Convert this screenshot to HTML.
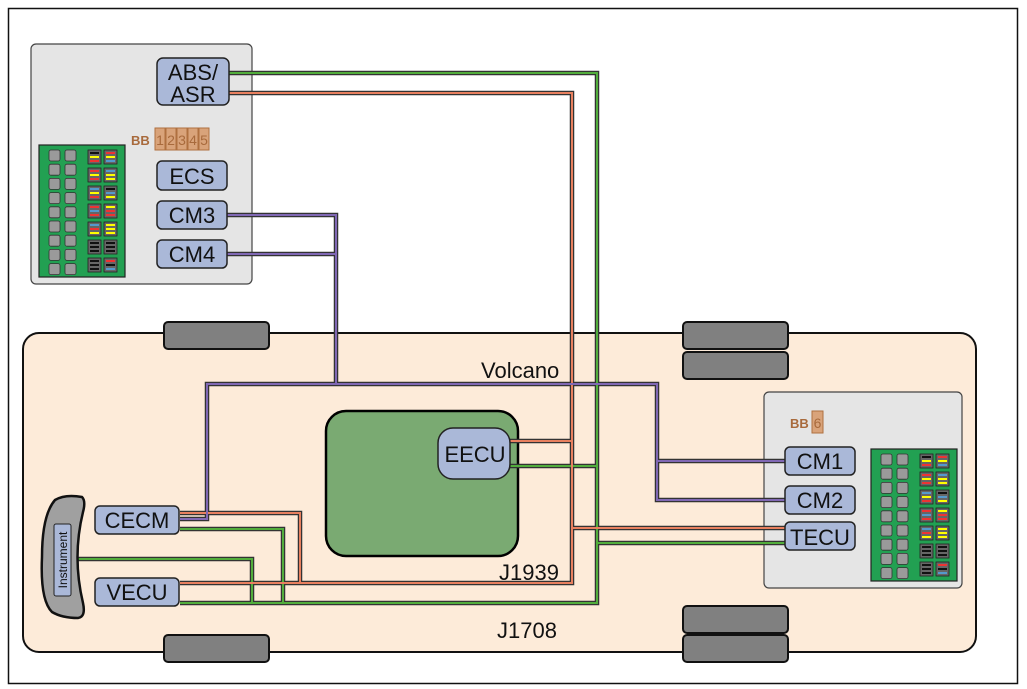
<!DOCTYPE html>
<html><head><meta charset="utf-8"><style>
html,body{margin:0;padding:0;background:#fff}
svg{display:block}
text{font-family:"Liberation Sans",Arial,sans-serif}
</style></head><body>
<svg width="1027" height="689" viewBox="0 0 1027 689" xmlns="http://www.w3.org/2000/svg">
<defs>
<g id="panel">
<rect x="0" y="0" width="86" height="132" fill="#22a052" stroke="#222" stroke-width="1.2"/>
<g fill="#9a9a9a" stroke="#333" stroke-width="0.8">
<rect x="10" y="5" width="11" height="11" rx="2"/><rect x="26" y="5" width="11" height="11" rx="2"/>
<rect x="10" y="19.2" width="11" height="11" rx="2"/><rect x="26" y="19.2" width="11" height="11" rx="2"/>
<rect x="10" y="33.4" width="11" height="11" rx="2"/><rect x="26" y="33.4" width="11" height="11" rx="2"/>
<rect x="10" y="47.6" width="11" height="11" rx="2"/><rect x="26" y="47.6" width="11" height="11" rx="2"/>
<rect x="10" y="61.8" width="11" height="11" rx="2"/><rect x="26" y="61.8" width="11" height="11" rx="2"/>
<rect x="10" y="76" width="11" height="11" rx="2"/><rect x="26" y="76" width="11" height="11" rx="2"/>
<rect x="10" y="90.2" width="11" height="11" rx="2"/><rect x="26" y="90.2" width="11" height="11" rx="2"/>
<rect x="10" y="104.4" width="11" height="11" rx="2"/><rect x="26" y="104.4" width="11" height="11" rx="2"/>
<rect x="10" y="118.6" width="11" height="11" rx="2"/><rect x="26" y="118.6" width="11" height="11" rx="2"/>
</g>
<g stroke="#222" stroke-width="0.8" fill="#666">
<rect x="49" y="5" width="13" height="14"/><rect x="65" y="5" width="13" height="14"/>
<rect x="49" y="23" width="13" height="14"/><rect x="65" y="23" width="13" height="14"/>
<rect x="49" y="41" width="13" height="14"/><rect x="65" y="41" width="13" height="14"/>
<rect x="49" y="59" width="13" height="14"/><rect x="65" y="59" width="13" height="14"/>
<rect x="49" y="77" width="13" height="14"/><rect x="65" y="77" width="13" height="14"/>
<rect x="49" y="95" width="13" height="14"/><rect x="65" y="95" width="13" height="14"/>
<rect x="49" y="113" width="13" height="14"/><rect x="65" y="113" width="13" height="14"/>
</g>
<g stroke="none">
<rect x="51" y="7" width="9" height="2" fill="#111"/><rect x="51" y="11" width="9" height="2" fill="#ff0"/><rect x="51" y="15" width="9" height="2" fill="#e33"/>
<rect x="67" y="7" width="9" height="2" fill="#e33"/><rect x="67" y="11" width="9" height="2" fill="#ff0"/><rect x="67" y="15" width="9" height="2" fill="#59c"/>
<rect x="51" y="25" width="9" height="2" fill="#e33"/><rect x="51" y="29" width="9" height="2" fill="#ff0"/><rect x="51" y="33" width="9" height="2" fill="#e33"/>
<rect x="67" y="25" width="9" height="2" fill="#59c"/><rect x="67" y="29" width="9" height="2" fill="#ff0"/><rect x="67" y="33" width="9" height="2" fill="#ff0"/>
<rect x="51" y="43" width="9" height="2" fill="#59c"/><rect x="51" y="47" width="9" height="2" fill="#ff0"/><rect x="51" y="51" width="9" height="2" fill="#e33"/>
<rect x="67" y="43" width="9" height="2" fill="#111"/><rect x="67" y="47" width="9" height="2" fill="#59c"/><rect x="67" y="51" width="9" height="2" fill="#ff0"/>
<rect x="51" y="61" width="9" height="2" fill="#e33"/><rect x="51" y="65" width="9" height="2" fill="#59c"/><rect x="51" y="69" width="9" height="2" fill="#e33"/>
<rect x="67" y="61" width="9" height="2" fill="#ff0"/><rect x="67" y="65" width="9" height="2" fill="#e33"/><rect x="67" y="69" width="9" height="2" fill="#e33"/>
<rect x="51" y="79" width="9" height="2" fill="#59c"/><rect x="51" y="83" width="9" height="2" fill="#e33"/><rect x="51" y="87" width="9" height="2" fill="#ff0"/>
<rect x="67" y="79" width="9" height="2" fill="#ff0"/><rect x="67" y="83" width="9" height="2" fill="#ff0"/><rect x="67" y="87" width="9" height="2" fill="#ff0"/>
<rect x="51" y="97" width="9" height="2" fill="#111"/><rect x="51" y="101" width="9" height="2" fill="#111"/><rect x="51" y="105" width="9" height="2" fill="#111"/>
<rect x="67" y="97" width="9" height="2" fill="#111"/><rect x="67" y="101" width="9" height="2" fill="#111"/><rect x="67" y="105" width="9" height="2" fill="#111"/>
<rect x="51" y="115" width="9" height="2" fill="#111"/><rect x="51" y="119" width="9" height="2" fill="#111"/><rect x="51" y="123" width="9" height="2" fill="#111"/>
<rect x="67" y="115" width="9" height="2" fill="#e33"/><rect x="67" y="119" width="9" height="2" fill="#111"/><rect x="67" y="123" width="9" height="2" fill="#59c"/>
</g>
</g>
</defs>

<rect x="8.5" y="8.5" width="1009" height="675" fill="#fff" stroke="#111" stroke-width="1.5"/>

<rect x="31" y="44" width="221" height="240" rx="5" fill="#e5e5e5" stroke="#444" stroke-width="1.2"/>

<rect x="23" y="333" width="953" height="319" rx="16" fill="#fdebd9" stroke="#111" stroke-width="2"/>
<g fill="#808080" stroke="#111" stroke-width="2">
<rect x="164" y="322" width="105" height="27" rx="4"/>
<rect x="683" y="322" width="105" height="27" rx="4"/>
<rect x="683" y="352" width="105" height="27" rx="4"/>
<rect x="164" y="635" width="105" height="27" rx="4"/>
<rect x="683" y="606" width="105" height="27" rx="4"/>
<rect x="683" y="635" width="105" height="27" rx="4"/>
</g>

<rect x="764" y="392" width="198" height="196" rx="5" fill="#e5e5e5" stroke="#444" stroke-width="1.2"/>

<rect x="326" y="411" width="192" height="145" rx="20" fill="#7aaa72" stroke="#000" stroke-width="2.5"/>

<g fill="none" stroke="#333" stroke-width="4.5" stroke-linejoin="miter">
<polyline points="229,73 597,73 597,603 180,603"/>
<polyline points="229,93 572,93 572,583 180,583"/>
<polyline points="510,441 572,441"/>
<polyline points="510,466 597,466"/>
<polyline points="572,528 785,528"/>
<polyline points="597,543 785,543"/>
<polyline points="180,513 300,513 300,583"/>
<polyline points="180,529 283,529 283,603"/>
<polyline points="78,559 252,559 252,603"/>
<polyline points="227,215 336,215 336,384"/>
<polyline points="227,254 336,254"/>
<polyline points="180,519 207,519 207,384 657,384 657,500 785,500"/>
<polyline points="657,461 785,461"/>
</g>
<g fill="none" stroke-width="2" stroke-linejoin="miter">
<g stroke="#52ad3c">
<polyline points="229,73 597,73 597,603 180,603"/>
<polyline points="510,466 597,466"/>
<polyline points="597,543 785,543"/>
<polyline points="180,529 283,529 283,603"/>
<polyline points="78,559 252,559 252,603"/>
</g>
<g stroke="#e8805f">
<polyline points="229,93 572,93 572,583 180,583"/>
<polyline points="510,441 572,441"/>
<polyline points="572,528 785,528"/>
<polyline points="180,513 300,513 300,583"/>
</g>
<g stroke="#8068b4">
<polyline points="227,215 336,215 336,384"/>
<polyline points="227,254 336,254"/>
<polyline points="180,519 207,519 207,384 657,384 657,500 785,500"/>
<polyline points="657,461 785,461"/>
</g>
</g>

<g fill="#aab8d8" stroke="#222" stroke-width="1.5">
<rect x="157" y="58" width="72" height="47" rx="6"/>
<rect x="157" y="161" width="70" height="29" rx="5"/>
<rect x="157" y="201" width="70" height="28" rx="5"/>
<rect x="157" y="240" width="70" height="28" rx="5"/>
<rect x="438" y="428" width="72" height="51" rx="15"/>
<rect x="785" y="447" width="70" height="28" rx="5"/>
<rect x="785" y="486" width="70" height="28" rx="5"/>
<rect x="785" y="522" width="70" height="28" rx="5"/>
<rect x="95" y="506" width="84" height="28" rx="5"/>
<rect x="95" y="578" width="84" height="28" rx="5"/>
</g>
<g font-size="22" fill="#111" text-anchor="middle">
<text x="193" y="80">ABS/</text>
<text x="193" y="102">ASR</text>
<text x="192" y="184">ECS</text>
<text x="192" y="223">CM3</text>
<text x="192" y="262">CM4</text>
<text x="475" y="462">EECU</text>
<text x="820" y="469">CM1</text>
<text x="820" y="508">CM2</text>
<text x="820" y="545">TECU</text>
<text x="137" y="528">CECM</text>
<text x="137" y="600">VECU</text>
</g>

<path d="M55,500 Q65,494 82,497 Q86,501 83,512 Q72,557 83,603 Q86,617 78,618 Q62,618 52,612 Q40,600 42,557 Q42,515 55,500 Z" fill="#a0a0a0" stroke="#111" stroke-width="2.5"/>
<rect x="54" y="524" width="17" height="72" rx="2" fill="#aab8d8" stroke="#222" stroke-width="1"/>
<text x="0" y="0" font-size="12" fill="#111" text-anchor="middle" transform="translate(67,560) rotate(-90)">Instrument</text>

<g fill="#d9a37a" stroke="#b07040" stroke-width="1">
<rect x="155" y="128" width="10" height="22"/><rect x="166" y="128" width="10" height="22"/><rect x="177" y="128" width="10" height="22"/><rect x="188" y="128" width="10" height="22"/><rect x="199" y="128" width="10" height="22"/>
<rect x="812" y="411" width="11" height="22"/>
</g>
<g font-size="13" fill="#a86a3c" font-weight="bold">
<text x="131" y="145">BB</text>
<text x="790" y="428">BB</text>
</g>
<g font-size="14" fill="#a86a3c" text-anchor="middle">
<text x="160" y="145">1</text><text x="171" y="145">2</text><text x="182" y="145">3</text><text x="193" y="145">4</text><text x="204" y="145">5</text>
<text x="817.5" y="428">6</text>
</g>

<use href="#panel" x="39" y="145"/>
<use href="#panel" x="871" y="449"/>

<g font-size="22" fill="#111">
<text x="481" y="378">Volcano</text>
<text x="499" y="580">J1939</text>
<text x="497" y="638">J1708</text>
</g>
</svg>
</body></html>
